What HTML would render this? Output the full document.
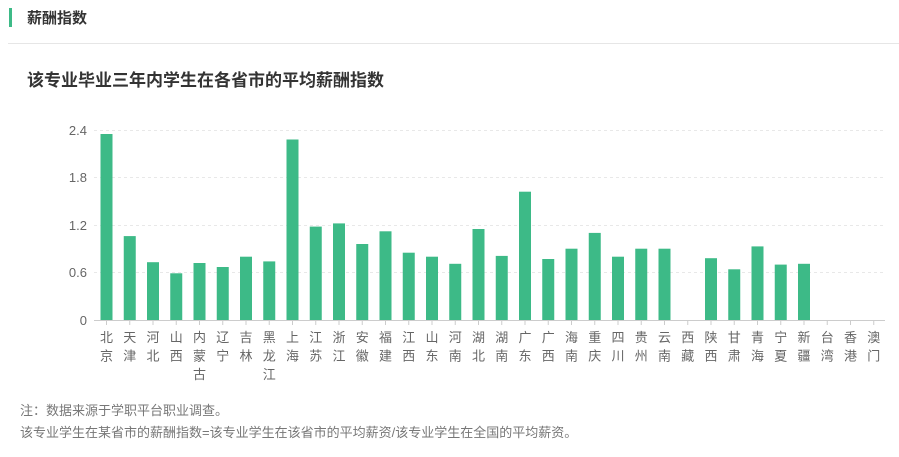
<!DOCTYPE html>
<html><head><meta charset="utf-8"><style>
body{margin:0;background:#fff;width:899px;height:452px;overflow:hidden;font-family:"Liberation Sans","Noto Sans CJK SC",sans-serif}
</style></head><body>
<svg width="899" height="452" xmlns="http://www.w3.org/2000/svg" style="font-family:'Liberation Sans','Noto Sans CJK SC',sans-serif">
<rect x="9" y="8" width="3" height="19" fill="#3dba87"/>
<text x="27" y="23" font-size="15" font-weight="bold" fill="#333">薪酬指数</text>
<line x1="8" y1="43.5" x2="899" y2="43.5" stroke="#e6e6e6"/>
<text x="27" y="86" font-size="17" font-weight="bold" fill="#333">该专业毕业三年内学生在各省市的平均薪酬指数</text>
<g stroke="#e8e8e8" stroke-dasharray="3,3">
<line x1="94" y1="130.5" x2="885" y2="130.5"/><line x1="94" y1="177.5" x2="885" y2="177.5"/>
<line x1="94" y1="225.5" x2="885" y2="225.5"/><line x1="94" y1="272.5" x2="885" y2="272.5"/>
</g>
<g font-size="13" fill="#666" text-anchor="end">
<text x="87" y="135">2.4</text><text x="87" y="182">1.8</text><text x="87" y="230">1.2</text><text x="87" y="277">0.6</text><text x="87" y="325">0</text>
</g>
<g fill="#3dba87">
<rect x="100.5" y="134" width="12" height="186"/>
<rect x="123.75" y="236.1" width="12" height="83.9"/>
<rect x="147" y="262.2" width="12" height="57.8"/>
<rect x="170.25" y="273.3" width="12" height="46.7"/>
<rect x="193.5" y="263" width="12" height="57"/>
<rect x="216.75" y="267" width="12" height="53"/>
<rect x="240" y="256.7" width="12" height="63.3"/>
<rect x="263.25" y="261.4" width="12" height="58.6"/>
<rect x="286.5" y="139.5" width="12" height="180.5"/>
<rect x="309.75" y="226.6" width="12" height="93.4"/>
<rect x="333" y="223.4" width="12" height="96.6"/>
<rect x="356.25" y="244" width="12" height="76"/>
<rect x="379.5" y="231.3" width="12" height="88.7"/>
<rect x="402.75" y="252.7" width="12" height="67.3"/>
<rect x="426" y="256.7" width="12" height="63.3"/>
<rect x="449.25" y="263.8" width="12" height="56.2"/>
<rect x="472.5" y="229" width="12" height="91"/>
<rect x="495.75" y="255.9" width="12" height="64.1"/>
<rect x="519" y="191.7" width="12" height="128.3"/>
<rect x="542.25" y="259" width="12" height="61"/>
<rect x="565.5" y="248.7" width="12" height="71.3"/>
<rect x="588.75" y="232.9" width="12" height="87.1"/>
<rect x="612" y="256.7" width="12" height="63.3"/>
<rect x="635.25" y="248.7" width="12" height="71.3"/>
<rect x="658.5" y="248.7" width="12" height="71.3"/>
<rect x="705" y="258.2" width="12" height="61.8"/>
<rect x="728.25" y="269.3" width="12" height="50.7"/>
<rect x="751.5" y="246.4" width="12" height="73.6"/>
<rect x="774.75" y="264.6" width="12" height="55.4"/>
<rect x="798" y="263.8" width="12" height="56.2"/>
</g>
<line x1="94" y1="320.5" x2="885" y2="320.5" stroke="#ccc"/>
<g stroke="#ccc">
<line x1="106.5" y1="320" x2="106.5" y2="325"/><line x1="129.75" y1="320" x2="129.75" y2="325"/><line x1="153" y1="320" x2="153" y2="325"/><line x1="176.25" y1="320" x2="176.25" y2="325"/><line x1="199.5" y1="320" x2="199.5" y2="325"/><line x1="222.75" y1="320" x2="222.75" y2="325"/><line x1="246" y1="320" x2="246" y2="325"/><line x1="269.25" y1="320" x2="269.25" y2="325"/><line x1="292.5" y1="320" x2="292.5" y2="325"/><line x1="315.75" y1="320" x2="315.75" y2="325"/><line x1="339" y1="320" x2="339" y2="325"/><line x1="362.25" y1="320" x2="362.25" y2="325"/><line x1="385.5" y1="320" x2="385.5" y2="325"/><line x1="408.75" y1="320" x2="408.75" y2="325"/><line x1="432" y1="320" x2="432" y2="325"/><line x1="455.25" y1="320" x2="455.25" y2="325"/><line x1="478.5" y1="320" x2="478.5" y2="325"/><line x1="501.75" y1="320" x2="501.75" y2="325"/><line x1="525" y1="320" x2="525" y2="325"/><line x1="548.25" y1="320" x2="548.25" y2="325"/><line x1="571.5" y1="320" x2="571.5" y2="325"/><line x1="594.75" y1="320" x2="594.75" y2="325"/><line x1="618" y1="320" x2="618" y2="325"/><line x1="641.25" y1="320" x2="641.25" y2="325"/><line x1="664.5" y1="320" x2="664.5" y2="325"/><line x1="687.75" y1="320" x2="687.75" y2="325"/><line x1="711" y1="320" x2="711" y2="325"/><line x1="734.25" y1="320" x2="734.25" y2="325"/><line x1="757.5" y1="320" x2="757.5" y2="325"/><line x1="780.75" y1="320" x2="780.75" y2="325"/><line x1="804" y1="320" x2="804" y2="325"/><line x1="827.25" y1="320" x2="827.25" y2="325"/><line x1="850.5" y1="320" x2="850.5" y2="325"/><line x1="873.75" y1="320" x2="873.75" y2="325"/>
</g>
<g font-size="13" fill="#666" text-anchor="middle">
<text x="106.5" y="342">北<tspan x="106.5" dy="18.5">京</tspan></text>
<text x="129.75" y="342">天<tspan x="129.75" dy="18.5">津</tspan></text>
<text x="153" y="342">河<tspan x="153" dy="18.5">北</tspan></text>
<text x="176.25" y="342">山<tspan x="176.25" dy="18.5">西</tspan></text>
<text x="199.5" y="342">内<tspan x="199.5" dy="18.5">蒙</tspan><tspan x="199.5" dy="18.5">古</tspan></text>
<text x="222.75" y="342">辽<tspan x="222.75" dy="18.5">宁</tspan></text>
<text x="246" y="342">吉<tspan x="246" dy="18.5">林</tspan></text>
<text x="269.25" y="342">黑<tspan x="269.25" dy="18.5">龙</tspan><tspan x="269.25" dy="18.5">江</tspan></text>
<text x="292.5" y="342">上<tspan x="292.5" dy="18.5">海</tspan></text>
<text x="315.75" y="342">江<tspan x="315.75" dy="18.5">苏</tspan></text>
<text x="339" y="342">浙<tspan x="339" dy="18.5">江</tspan></text>
<text x="362.25" y="342">安<tspan x="362.25" dy="18.5">徽</tspan></text>
<text x="385.5" y="342">福<tspan x="385.5" dy="18.5">建</tspan></text>
<text x="408.75" y="342">江<tspan x="408.75" dy="18.5">西</tspan></text>
<text x="432" y="342">山<tspan x="432" dy="18.5">东</tspan></text>
<text x="455.25" y="342">河<tspan x="455.25" dy="18.5">南</tspan></text>
<text x="478.5" y="342">湖<tspan x="478.5" dy="18.5">北</tspan></text>
<text x="501.75" y="342">湖<tspan x="501.75" dy="18.5">南</tspan></text>
<text x="525" y="342">广<tspan x="525" dy="18.5">东</tspan></text>
<text x="548.25" y="342">广<tspan x="548.25" dy="18.5">西</tspan></text>
<text x="571.5" y="342">海<tspan x="571.5" dy="18.5">南</tspan></text>
<text x="594.75" y="342">重<tspan x="594.75" dy="18.5">庆</tspan></text>
<text x="618" y="342">四<tspan x="618" dy="18.5">川</tspan></text>
<text x="641.25" y="342">贵<tspan x="641.25" dy="18.5">州</tspan></text>
<text x="664.5" y="342">云<tspan x="664.5" dy="18.5">南</tspan></text>
<text x="687.75" y="342">西<tspan x="687.75" dy="18.5">藏</tspan></text>
<text x="711" y="342">陕<tspan x="711" dy="18.5">西</tspan></text>
<text x="734.25" y="342">甘<tspan x="734.25" dy="18.5">肃</tspan></text>
<text x="757.5" y="342">青<tspan x="757.5" dy="18.5">海</tspan></text>
<text x="780.75" y="342">宁<tspan x="780.75" dy="18.5">夏</tspan></text>
<text x="804" y="342">新<tspan x="804" dy="18.5">疆</tspan></text>
<text x="827.25" y="342">台<tspan x="827.25" dy="18.5">湾</tspan></text>
<text x="850.5" y="342">香<tspan x="850.5" dy="18.5">港</tspan></text>
<text x="873.75" y="342">澳<tspan x="873.75" dy="18.5">门</tspan></text>
</g>
<g font-size="13" fill="#777">
<text x="20" y="415">注：数据来源于学职平台职业调查。</text>
<text x="20" y="437">该专业学生在某省市的薪酬指数=该专业学生在该省市的平均薪资/该专业学生在全国的平均薪资。</text>
</g>
</svg>
</body></html>
